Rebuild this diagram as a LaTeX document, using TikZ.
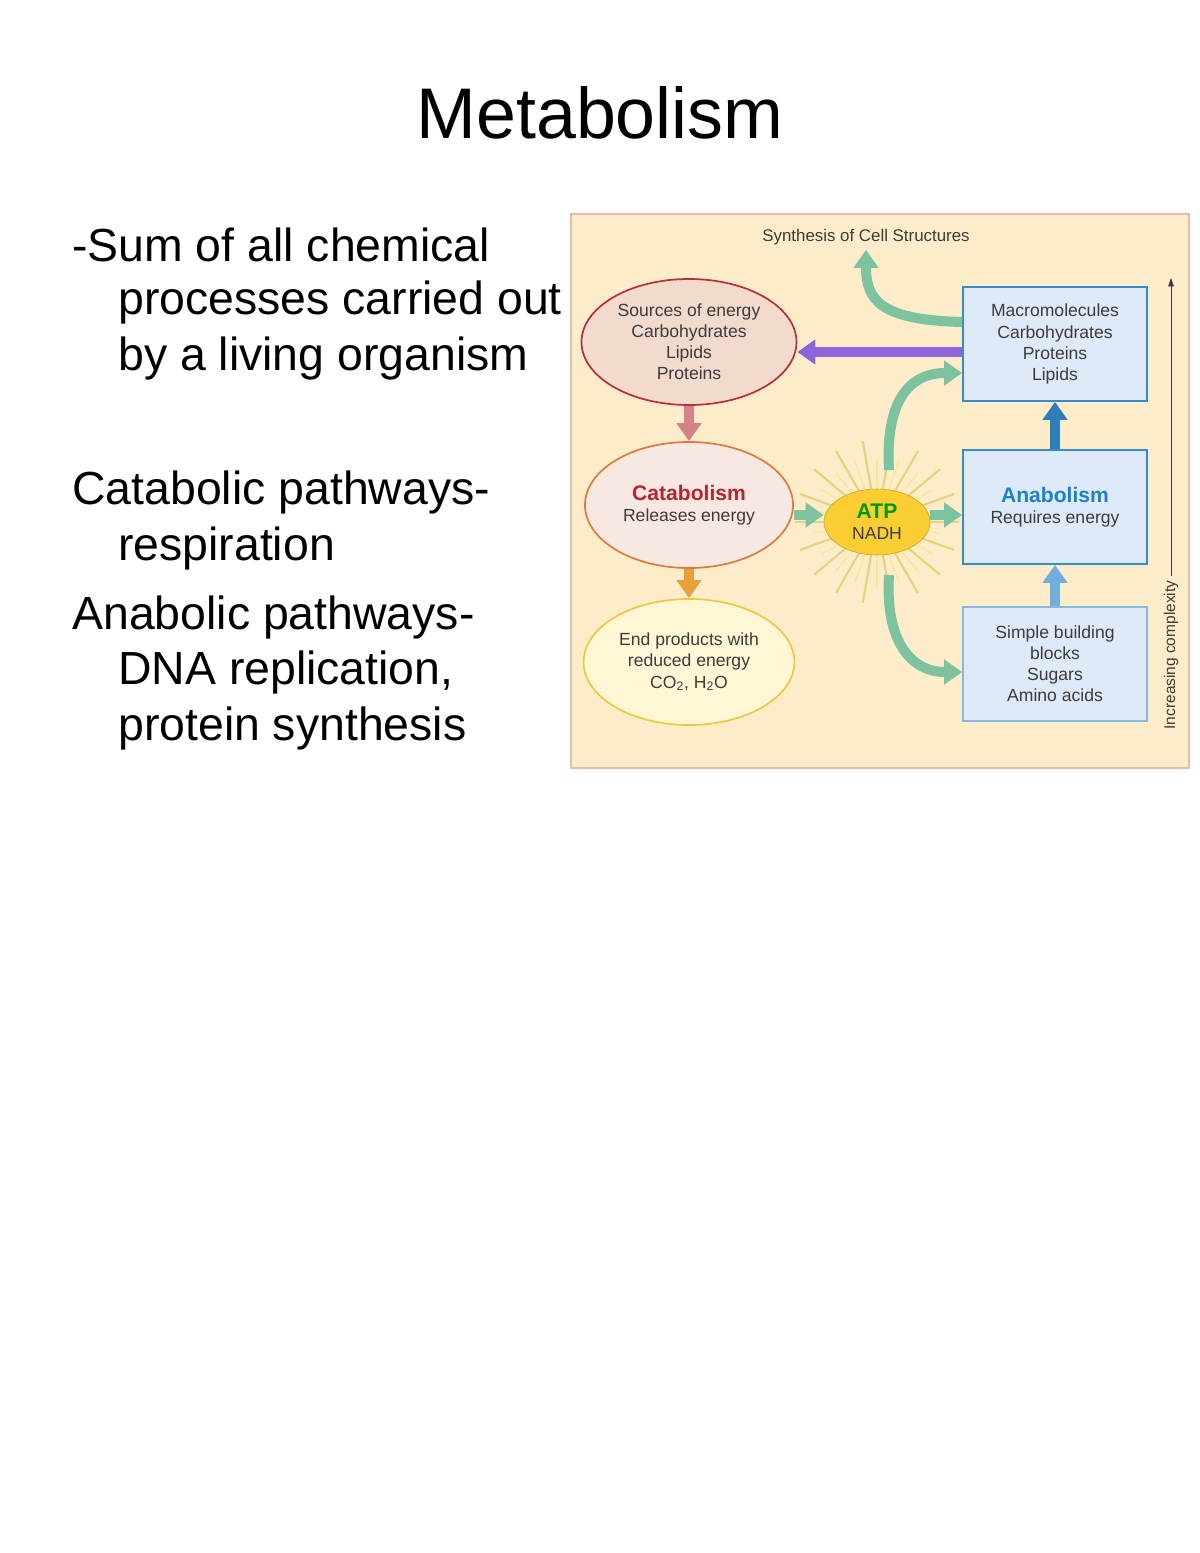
\documentclass[tikz,border=0pt]{standalone}
\usepackage{fontspec}
\setmainfont{Liberation Sans}
\usetikzlibrary{shapes.geometric, arrows.meta, positioning, calc}
\definecolor{panelbg}{RGB}{253,236,201}
\definecolor{panelline}{RGB}{236,186,165}
\definecolor{srcfill}{RGB}{242,218,205}
\definecolor{srcline}{RGB}{185,45,60}
\definecolor{catline}{RGB}{225,120,60}
\definecolor{endline}{RGB}{240,200,60}
\definecolor{endfill}{RGB}{255,246,214}
\definecolor{boxfill}{RGB}{222,234,247}
\definecolor{boxline}{RGB}{50,140,205}
\definecolor{greenarrow}{RGB}{125,195,160}
\definecolor{atpgold}{RGB}{250,205,50}
\definecolor{catred}{RGB}{185,35,50}
\definecolor{anablue}{RGB}{30,130,200}
\definecolor{txtgray}{RGB}{60,60,60}
\tikzset{
  diagtext/.style={font=\fontsize{12.5}{15}\selectfont, text=txtgray, align=center},
  oval/.style={ellipse, draw, line width=1.2pt, minimum width=5.2cm, minimum height=3.15cm, diagtext},
  blockbox/.style={rectangle, draw=boxline, fill=boxfill, line width=1.2pt, minimum width=4.6cm, minimum height=2.85cm, diagtext},
  fat/.style={line width=0.25cm, -{Triangle[length=0.45cm, width=0.6cm]}},
  slidetext/.style={font=\fontsize{33}{40}\selectfont, anchor=west, inner sep=0pt}
}
\begin{document}
\begin{tikzpicture}[x=0.025cm, y=-0.025cm]
    \useasboundingbox[fill=white] (0,0) rectangle (1200,1553);

    % Title and slide text
    \node[font=\fontsize{51}{60}\selectfont] (title) at (600,113) {Metabolism};
    \node[slidetext] (l1) at (72,245) {-Sum of all chemical};
    \node[slidetext] (l2) at (118,302) {processes carried out};
    \node[slidetext] (l3) at (118,358) {by a living organism};
    \node[slidetext] (l4) at (72,492) {Catabolic pathways-};
    \node[slidetext] (l5) at (118,548) {respiration};
    \node[slidetext] (l6) at (72,617) {Anabolic pathways-};
    \node[slidetext] (l7) at (118,672) {DNA replication,};
    \node[slidetext] (l8) at (118,728) {protein synthesis};

    % Panel
    \draw[fill=panelbg, draw=panelline, line width=1.2pt] (571,214) rectangle (1189,768);

    % Left column
    \node[oval, draw=srcline, fill=srcfill] (sources) at (689,342) {Sources of energy\\Carbohydrates\\Lipids\\Proteins};
    \node[oval, draw=catline, fill=srcfill!60] (catab) at (689,505) {{\fontsize{15}{18}\selectfont\bfseries\color{catred}Catabolism}\\Releases energy};
    \node[oval, draw=endline, fill=endfill] (endprod) at (689,662) {End products with\\reduced energy\\CO\textsubscript{2}, H\textsubscript{2}O};

    % Right column
    \node[blockbox] (macro) at (1055,344) {Macromolecules\\Carbohydrates\\Proteins\\Lipids};
    \node[blockbox] (anab) at (1055,507) {{\fontsize{15}{18}\selectfont\bfseries\color{anablue}Anabolism}\\Requires energy};
    \node[blockbox, draw=boxline!60] (simple) at (1055,664) {Simple building\\blocks\\Sugars\\Amino acids};

    % ATP burst
    \foreach \a in {0,20,...,340}
        \draw[atpgold!70!olive!60, line width=1.5pt] (877,522) -- ++(\a:82);
    \foreach \a in {10,30,...,350}
        \draw[atpgold!50, line width=1pt] (877,522) -- ++(\a:64);
    \node[ellipse, fill=atpgold, draw=atpgold!80!black, minimum width=2.65cm, minimum height=1.65cm, diagtext] (atp) at (877,522) {{\fontsize{15}{18}\selectfont\bfseries\color{green!60!black}ATP}\\NADH};

    \node[font=\fontsize{12}{14}\selectfont, text=txtgray] (synth) at (866,237) {Synthesis of Cell Structures};

    % Arrows
    \draw[fat, color=srcline!60] (sources.south) -- (catab.north);
    \draw[fat, color=catline!50!endline] (catab.south) -- (endprod.north);
    \draw[fat, color=violet!50!blue!60] (macro.west |- 0,352) -- (sources.east |- 0,352);
    \draw[fat, color=boxline!90!black] (anab.north) -- (macro.south);
    \draw[fat, color=boxline!70] (simple.north) -- (anab.south);
    \draw[fat, color=greenarrow] (catab.east |- 0,515) -- (atp.west |- 0,515);
    \draw[fat, color=greenarrow] (atp.east |- 0,515) -- (anab.west |- 0,515);
    \draw[fat, color=greenarrow] (889,470) .. controls (885,400) and (910,373) .. (macro.west |- 0,373);
    \draw[fat, color=greenarrow] (889,575) .. controls (885,640) and (910,672) .. (simple.west |- 0,672);
    \draw[fat, color=greenarrow] (macro.west |- 0,322) .. controls (880,320) and (866,300) .. (synth.south);

    % Complexity axis
    \node[rotate=90, font=\fontsize{11}{13}\selectfont, text=txtgray] (cplx) at (1171,655) {Increasing complexity};
    \coordinate (ctop) at (1171,278);
    \draw[-{Triangle[length=6pt, width=4pt]}, txtgray] (cplx.east) -- (ctop);
\end{tikzpicture}
\end{document}
